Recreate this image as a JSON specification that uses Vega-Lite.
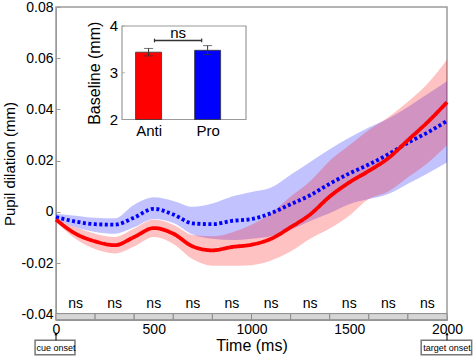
{
  "$schema": "https://vega.github.io/schema/vega-lite/v6.json",
  "width": 391,
  "height": 313,
  "autosize": {"type": "none"},
  "padding": {"left": 56, "top": 7, "right": 27, "bottom": 36},
  "config": {
    "font": "Liberation Sans",
    "view": {"stroke": "#9a9a9a", "strokeWidth": 1.5},
    "axis": {"grid": false, "labelColor": "#000", "titleColor": "#000", "titleFontWeight": "normal", "domainColor": "#9a9a9a", "tickColor": "#9a9a9a"}
  },
  "datasets": {
    "curves": [
      {"t": 0, "cond": "Pro", "m": -0.002, "lo": -0.0027, "hi": -0.0007},
      {"t": 100, "cond": "Pro", "m": -0.0038, "lo": -0.006, "hi": -0.0015},
      {"t": 200, "cond": "Pro", "m": -0.0048, "lo": -0.0078, "hi": -0.0023},
      {"t": 300, "cond": "Pro", "m": -0.005, "lo": -0.0085, "hi": -0.0025},
      {"t": 400, "cond": "Pro", "m": -0.0022, "lo": -0.006, "hi": 0.0028},
      {"t": 500, "cond": "Pro", "m": 0.0012, "lo": -0.0028, "hi": 0.0057},
      {"t": 600, "cond": "Pro", "m": -0.001, "lo": -0.0043, "hi": 0.0043},
      {"t": 700, "cond": "Pro", "m": -0.0045, "lo": -0.0088, "hi": 0.002},
      {"t": 800, "cond": "Pro", "m": -0.0048, "lo": -0.0105, "hi": 0.0033},
      {"t": 900, "cond": "Pro", "m": -0.0035, "lo": -0.011, "hi": 0.006},
      {"t": 1000, "cond": "Pro", "m": -0.0028, "lo": -0.0105, "hi": 0.0078},
      {"t": 1100, "cond": "Pro", "m": -0.0005, "lo": -0.0095, "hi": 0.0095},
      {"t": 1200, "cond": "Pro", "m": 0.003, "lo": -0.007, "hi": 0.0145},
      {"t": 1300, "cond": "Pro", "m": 0.0065, "lo": -0.0035, "hi": 0.0195},
      {"t": 1400, "cond": "Pro", "m": 0.011, "lo": -0.0005, "hi": 0.0245},
      {"t": 1500, "cond": "Pro", "m": 0.015, "lo": 0.003, "hi": 0.029},
      {"t": 1600, "cond": "Pro", "m": 0.0185, "lo": 0.005, "hi": 0.033},
      {"t": 1700, "cond": "Pro", "m": 0.0225, "lo": 0.007, "hi": 0.0365},
      {"t": 1800, "cond": "Pro", "m": 0.027, "lo": 0.011, "hi": 0.041},
      {"t": 1900, "cond": "Pro", "m": 0.031, "lo": 0.015, "hi": 0.046},
      {"t": 2000, "cond": "Pro", "m": 0.0355, "lo": 0.0193, "hi": 0.051},
      {"t": 0, "cond": "Anti", "m": -0.003, "lo": -0.0038, "hi": -0.0025},
      {"t": 100, "cond": "Anti", "m": -0.0085, "lo": -0.0105, "hi": -0.006},
      {"t": 200, "cond": "Anti", "m": -0.0115, "lo": -0.0145, "hi": -0.0085},
      {"t": 300, "cond": "Anti", "m": -0.013, "lo": -0.0162, "hi": -0.0098},
      {"t": 400, "cond": "Anti", "m": -0.0098, "lo": -0.0135, "hi": -0.0065},
      {"t": 500, "cond": "Anti", "m": -0.0063, "lo": -0.0098, "hi": -0.003},
      {"t": 600, "cond": "Anti", "m": -0.0085, "lo": -0.0125, "hi": -0.005},
      {"t": 700, "cond": "Anti", "m": -0.0135, "lo": -0.0185, "hi": -0.009},
      {"t": 800, "cond": "Anti", "m": -0.015, "lo": -0.021, "hi": -0.0095},
      {"t": 900, "cond": "Anti", "m": -0.0137, "lo": -0.021, "hi": -0.008},
      {"t": 1000, "cond": "Anti", "m": -0.0128, "lo": -0.0208, "hi": -0.005},
      {"t": 1100, "cond": "Anti", "m": -0.0105, "lo": -0.019, "hi": -0.0005},
      {"t": 1200, "cond": "Anti", "m": -0.006, "lo": -0.0155, "hi": 0.006},
      {"t": 1300, "cond": "Anti", "m": -0.001, "lo": -0.0105, "hi": 0.012},
      {"t": 1400, "cond": "Anti", "m": 0.006, "lo": -0.0065, "hi": 0.02},
      {"t": 1500, "cond": "Anti", "m": 0.0115, "lo": -0.0015, "hi": 0.026},
      {"t": 1600, "cond": "Anti", "m": 0.016, "lo": 0.005, "hi": 0.032},
      {"t": 1700, "cond": "Anti", "m": 0.021, "lo": 0.008, "hi": 0.037},
      {"t": 1800, "cond": "Anti", "m": 0.028, "lo": 0.0135, "hi": 0.043},
      {"t": 1900, "cond": "Anti", "m": 0.035, "lo": 0.019, "hi": 0.05},
      {"t": 2000, "cond": "Anti", "m": 0.0428, "lo": 0.026, "hi": 0.0595}
    ],
    "bins": [
      {"start": 0, "end": 200, "mid": 100, "sig": "ns"},
      {"start": 200, "end": 400, "mid": 300, "sig": "ns"},
      {"start": 400, "end": 600, "mid": 500, "sig": "ns"},
      {"start": 600, "end": 800, "mid": 700, "sig": "ns"},
      {"start": 800, "end": 1000, "mid": 900, "sig": "ns"},
      {"start": 1000, "end": 1200, "mid": 1100, "sig": "ns"},
      {"start": 1200, "end": 1400, "mid": 1300, "sig": "ns"},
      {"start": 1400, "end": 1600, "mid": 1500, "sig": "ns"},
      {"start": 1600, "end": 1800, "mid": 1700, "sig": "ns"},
      {"start": 1800, "end": 2000, "mid": 1900, "sig": "ns"}
    ],
    "onsets": [
      {"t": 0, "label": "cue onset"},
      {"t": 2000, "label": "target onset"}
    ],
    "bars": [
      {"pos": 1, "cond": "Anti", "mean": 3.44, "lo": 3.36, "hi": 3.52},
      {"pos": 2, "cond": "Pro", "mean": 3.48, "lo": 3.39, "hi": 3.58}
    ],
    "insetTicks": [
      {"v": 2, "label": "2"},
      {"v": 3, "label": "3"},
      {"v": 4, "label": "4"}
    ]
  },
  "layer": [
    {
      "layer": [
        {
          "data": {"name": "curves"},
          "mark": {"type": "area", "opacity": 0.24, "interpolate": "monotone"},
          "encoding": {
            "x": {"field": "t", "type": "quantitative", "scale": {"domain": [0, 2000], "nice": false},
              "axis": {"title": "Time (ms)", "values": [0, 500, 1000, 1500, 2000], "format": "d", "labelFontSize": 14, "titleFontSize": 16, "tickSize": -4, "labelPadding": 6, "titlePadding": 1, "labelFlush": false}},
            "y": {"field": "lo", "type": "quantitative", "scale": {"domain": [-0.0422, 0.08], "nice": false, "zero": false},
              "axis": {"title": "Pupil dilation (mm)", "values": [-0.04, -0.02, 0, 0.02, 0.04, 0.06, 0.08], "labelExpr": "replace(format(datum.value, '~g'), '−', '-')", "labelFontSize": 14, "titleFontSize": 15, "tickSize": -4, "labelPadding": 7, "titlePadding": 4, "labelFlush": false}},
            "y2": {"field": "hi"},
            "color": {"field": "cond", "type": "nominal", "scale": {"domain": ["Anti", "Pro"], "range": ["#ff0000", "#0000ff"]}, "legend": null}
          }
        },
        {
          "data": {"name": "curves"},
          "mark": {"type": "line", "strokeWidth": 3.8, "interpolate": "monotone"},
          "encoding": {
            "x": {"field": "t", "type": "quantitative"},
            "y": {"field": "m", "type": "quantitative"},
            "color": {"field": "cond", "type": "nominal", "legend": null},
            "strokeDash": {"field": "cond", "type": "nominal", "scale": {"domain": ["Anti", "Pro"], "range": [[1, 0], [3, 2.5]]}, "legend": null}
          }
        },
        {
          "data": {"name": "bins"},
          "mark": {"type": "rect", "fill": "#d6d6d6", "stroke": "#8a8a8a", "strokeWidth": 1},
          "encoding": {
            "x": {"field": "start", "type": "quantitative"},
            "x2": {"field": "end"},
            "y": {"datum": -0.0397},
            "y2": {"datum": -0.0421}
          }
        },
        {
          "data": {"name": "bins"},
          "mark": {"type": "text", "fontSize": 14, "baseline": "middle"},
          "encoding": {
            "x": {"field": "mid", "type": "quantitative"},
            "y": {"datum": -0.0358},
            "text": {"field": "sig"}
          }
        },
        {
          "data": {"values": [{}]},
          "mark": {"type": "rect", "fill": "#fff", "stroke": "#777", "strokeWidth": 1.5},
          "encoding": {"x": {"datum": -107}, "x2": {"datum": 97}, "y": {"datum": -0.0501}, "y2": {"datum": -0.0558}}
        },
        {
          "data": {"values": [{}]},
          "mark": {"type": "rect", "fill": "#fff", "stroke": "#777", "strokeWidth": 1.5},
          "encoding": {"x": {"datum": 1868}, "x2": {"datum": 2126}, "y": {"datum": -0.0501}, "y2": {"datum": -0.0558}}
        },
        {
          "data": {"name": "onsets"},
          "mark": {"type": "text", "fontSize": 9, "baseline": "middle"},
          "encoding": {"x": {"field": "t", "type": "quantitative"}, "y": {"datum": -0.053}, "text": {"field": "label"}}
        },
        {
          "data": {"name": "onsets"},
          "mark": {"type": "rule", "color": "#000", "strokeWidth": 1},
          "encoding": {"x": {"field": "t", "type": "quantitative"}, "y": {"datum": -0.0474}, "y2": {"datum": -0.0501}}
        },
        {
          "data": {"name": "onsets"},
          "mark": {"type": "point", "shape": "triangle-up", "filled": true, "color": "#000", "size": 10, "opacity": 1},
          "encoding": {"x": {"field": "t", "type": "quantitative"}, "y": {"datum": -0.0476}}
        }
      ]
    },
    {
      "layer": [
        {
          "data": {"values": [{}]},
          "mark": {"type": "rect", "fill": "#fff", "stroke": "#9a9a9a", "strokeWidth": 1.2},
          "encoding": {
            "x": {"datum": 0.55, "type": "quantitative", "scale": {"domain": [0.55, 2.65], "range": [61, 195], "nice": false, "zero": false},
              "axis": {"orient": "bottom", "offset": -199.5, "values": [1, 2], "labelExpr": "datum.value == 1 ? 'Anti' : 'Pro'", "title": null, "domain": false, "ticks": false, "labelFontSize": 15, "labelPadding": 3, "labelFlush": false, "labelOverlap": false, "zindex": 1}},
            "x2": {"datum": 2.65},
            "y": {"datum": 2, "type": "quantitative", "scale": {"domain": [2, 4], "range": [112.5, 19], "nice": false, "zero": false},
              "axis": {"orient": "left", "offset": -61, "values": [2, 3, 4], "labels": false, "ticks": false, "domain": false, "title": "Baseline (mm)", "titleFontSize": 16, "titlePadding": 15, "zindex": 2}},
            "y2": {"datum": 4}
          }
        },
        {
          "data": {"name": "insetTicks"},
          "mark": {"type": "text", "fontSize": 15, "align": "right", "baseline": "middle", "dx": -4},
          "encoding": {
            "x": {"datum": 0.55},
            "y": {"field": "v", "type": "quantitative"},
            "text": {"field": "label"}
          }
        },
        {
          "data": {"name": "insetTicks"},
          "mark": {"type": "tick", "orient": "horizontal", "size": 3, "thickness": 1, "color": "#9a9a9a", "xOffset": 1.5},
          "encoding": {
            "x": {"datum": 0.55},
            "y": {"field": "v", "type": "quantitative"}
          }
        },
        {
          "data": {"name": "bars"},
          "mark": {"type": "bar", "size": 26, "stroke": "#333", "strokeWidth": 0.8},
          "encoding": {
            "x": {"field": "pos", "type": "quantitative"},
            "y": {"field": "mean", "type": "quantitative"},
            "y2": {"datum": 2},
            "color": {"field": "cond", "type": "nominal", "legend": null}
          }
        },
        {
          "data": {"name": "bars"},
          "mark": {"type": "rule", "color": "#333", "strokeWidth": 1},
          "encoding": {"x": {"field": "pos", "type": "quantitative"}, "y": {"field": "lo", "type": "quantitative"}, "y2": {"field": "hi"}}
        },
        {
          "data": {"name": "bars"},
          "mark": {"type": "tick", "orient": "horizontal", "size": 9, "thickness": 1, "color": "#333"},
          "encoding": {"x": {"field": "pos", "type": "quantitative"}, "y": {"field": "lo", "type": "quantitative"}}
        },
        {
          "data": {"name": "bars"},
          "mark": {"type": "tick", "orient": "horizontal", "size": 9, "thickness": 1, "color": "#333"},
          "encoding": {"x": {"field": "pos", "type": "quantitative"}, "y": {"field": "hi", "type": "quantitative"}}
        },
        {
          "data": {"values": [{}]},
          "mark": {"type": "rule", "color": "#333", "strokeWidth": 1.5},
          "encoding": {"x": {"datum": 1.1}, "x2": {"datum": 1.9}, "y": {"datum": 3.69}}
        },
        {
          "data": {"values": [{"b": 1.1}, {"b": 1.9}]},
          "mark": {"type": "rule", "color": "#333", "strokeWidth": 1.2},
          "encoding": {"x": {"field": "b", "type": "quantitative"}, "y": {"datum": 3.65}, "y2": {"datum": 3.73}}
        },
        {
          "data": {"values": [{"txt": "ns"}]},
          "mark": {"type": "text", "fontSize": 15, "baseline": "middle"},
          "encoding": {"x": {"datum": 1.5}, "y": {"datum": 3.85}, "text": {"field": "txt"}}
        }
      ]
    }
  ],
  "resolve": {"scale": {"x": "independent", "y": "independent"}, "axis": {"x": "independent", "y": "independent"}}
}
